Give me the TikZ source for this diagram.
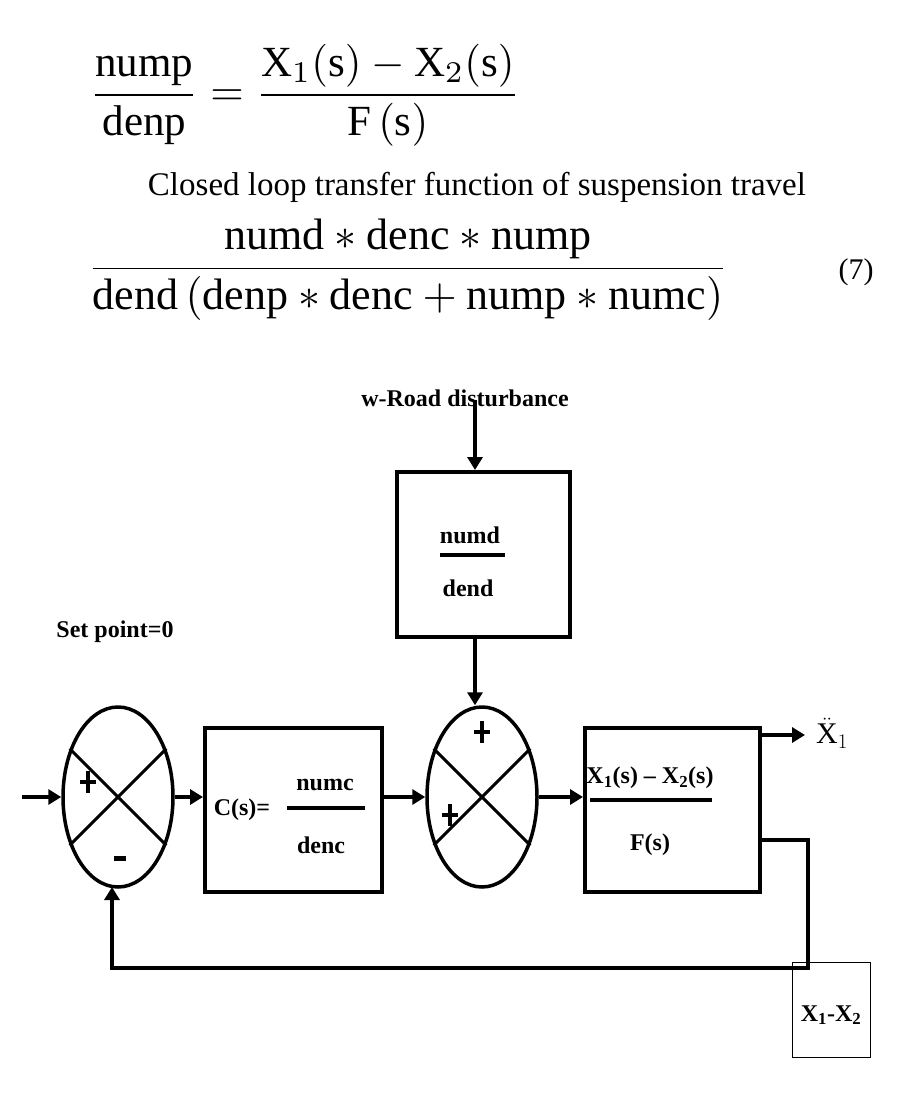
\documentclass[tikz,border=0pt]{standalone}
\usepackage{amsmath}
\usepackage{fontspec}
\setmainfont{Liberation Serif}
\usetikzlibrary{arrows.meta,shapes.geometric}
\begin{document}
\begin{tikzpicture}[x=1pt,y=-1pt,
  blk/.style={draw,line width=4pt,minimum width=#1,inner sep=0pt},
  sumj/.style={draw,ellipse,line width=3.5pt,minimum width=110pt,minimum height=180pt,inner sep=0pt},
  sig/.style={line width=4pt,-{Triangle[length=13pt,width=15pt]}},
  lab/.style={font=\fontsize{24}{26}\selectfont},
  plus/.pic={\draw[line width=4.5pt] (-8,0)--(8,0) (0,-11)--(0,11);},
  minus/.pic={\draw[line width=5pt] (-6,0)--(6,0);}]
\useasboundingbox (0,0) rectangle (917,1113);
\node[font=\fontsize{10}{12}\selectfont] (eq1) at (305,95) {\scalebox{4.3}{$\dfrac{\mathrm{nump}}{\mathrm{denp}}=\dfrac{\mathrm{X}_1(\mathrm{s})-\mathrm{X}_2(\mathrm{s})}{\mathrm{F}\,(\mathrm{s})}$}};
\node[font=\fontsize{33}{36}\selectfont] (cap) at (477,187) {Closed loop transfer function of suspension travel};
\node[font=\fontsize{10}{12}\selectfont] (eq2) at (408,270) {\scalebox{4.4}{$\dfrac{\mathrm{numd}*\mathrm{denc}*\mathrm{nump}}{\mathrm{dend}\,(\mathrm{denp}*\mathrm{denc}+\mathrm{nump}*\mathrm{numc})}$}};
\node[font=\fontsize{30}{32}\selectfont] (eqn) at (856,272) {(7)};
\node[lab,font=\fontsize{24}{26}\bfseries\selectfont] (w) at (465,398) {w-Road disturbance};
\node[blk=173pt,minimum height=165pt] (D) at (483.5,554.5) {};
\node[lab] (dn) at (470,535) {\bfseries numd};
\draw[line width=4pt] (440,555)--(505,555);
\node[lab] (dd) at (468,588) {\bfseries dend};
\node[lab] (sp) at (115,632) {\bfseries Set point=0};
\node[sumj] (S1) at (118,797) {};
\node[sumj] (S2) at (482,797) {};
\foreach \s in {S1,S2}{
  \draw[line width=3pt] (\s.45)--(\s.225) (\s.135)--(\s.315);}
\pic at (88,782) {plus};
\pic at (120,858) {minus};
\pic at (482,732) {plus};
\pic at (450,815) {plus};
\node[blk=177pt,minimum height=164pt] (C) at (293.5,810) {};
\node[lab] (cs) at (242,810) {\bfseries C(s)=};
\node[lab] (nc) at (325,785) {\bfseries numc};
\draw[line width=4pt] (287,808)--(365,808);
\node[lab] (dc) at (321,845) {\bfseries denc};
\node[blk=175pt,minimum height=164pt] (P) at (672.5,810) {};
\node[lab] (nx) at (650,778) {\bfseries X\textsubscript{1}(s) -- X\textsubscript{2}(s)};
\draw[line width=4pt] (590,800)--(712,800);
\node[lab] (fs) at (650,845) {\bfseries F(s)};
\node[font=\fontsize{30}{32}\selectfont] (xo) at (832,733) {$\ddot{\mathrm{X}}_1$};
\node[draw,line width=1pt,minimum width=78pt,minimum height=95pt,inner sep=0pt] (E) at (831,1009.5) {};
\node[lab] (el) at (831,1015) {\bfseries X\textsubscript{1}-X\textsubscript{2}};
\coordinate (in) at (22,797);
\coordinate (o) at (805,735);
\coordinate (f1) at (760,840);
\coordinate (f2) at (808,840);
\coordinate (f3) at (808,968);
\coordinate (f4) at (112,968);
\coordinate (wt) at (475,400);
\draw[sig] (wt)--(D.north -| wt);
\draw[sig] (D.south -| wt)--(S2.north -| wt);
\draw[sig] (in)--(S1.west);
\draw[sig] (S1.east)--(C.west |- S1.east);
\draw[sig] (C.east |- S2.west)--(S2.west);
\draw[sig] (S2.east)--(P.west |- S2.east);
\draw[sig] (P.east |- o)--(o);
\draw[sig] (f1)--(f2)--(f3)--(f4)--(112,887);
\end{tikzpicture}
\end{document}
